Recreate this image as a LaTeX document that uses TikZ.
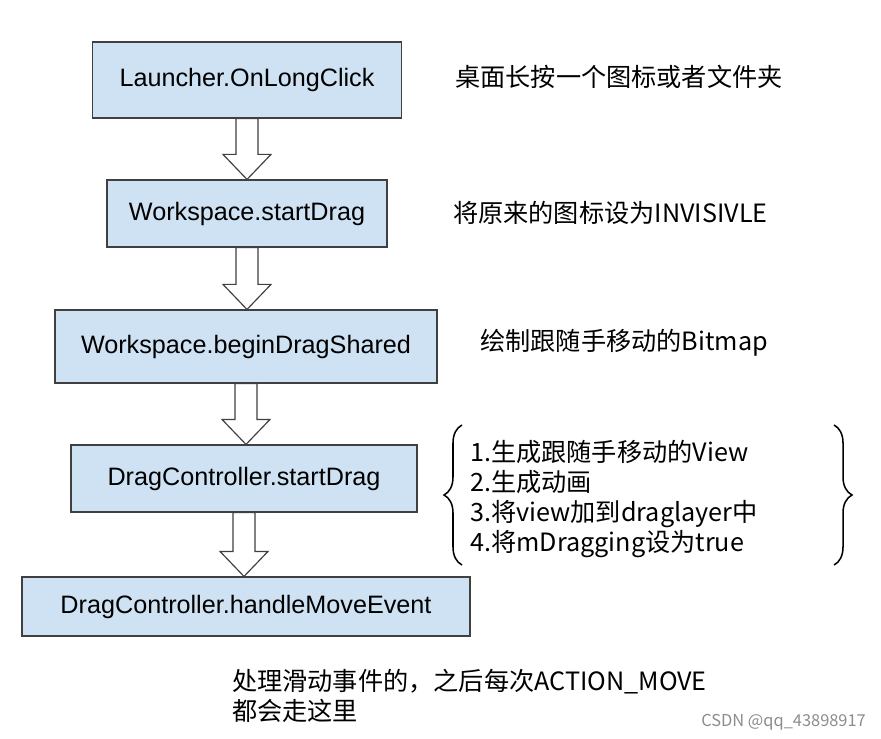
\documentclass[tikz,border=0pt]{standalone}
\usepackage{fontspec}
\setmainfont{Liberation Sans}
\newfontfamily\cjk{Noto Sans CJK SC}
\usetikzlibrary{calc,decorations.pathreplacing}
\begin{document}
\begin{tikzpicture}[x=0.03cm,y=-0.03cm,
  box/.style={draw=black!75,line width=1pt,fill={rgb,255:red,207;green,226;blue,243},inner sep=0pt,font=\fontsize{21.5}{24}\selectfont},
  lbl/.style={anchor=west,font=\cjk\fontsize{21.5}{25.5}\selectfont,inner sep=0pt,align=left},
  blk/.style={draw=black!75,line width=1pt,fill=white}]
\useasboundingbox (0,0) rectangle (881,739);
\node[box,minimum width=309*0.03cm,minimum height=76*0.03cm] (b1) at (247,80) {Launcher.OnLongClick};
\node[box,minimum width=280*0.03cm,minimum height=67*0.03cm] (b2) at (247,213.5) {Workspace.startDrag};
\node[box,minimum width=382*0.03cm,minimum height=73*0.03cm] (b3) at (246,346.5) {Workspace.beginDragShared};
\node[box,minimum width=346*0.03cm,minimum height=67*0.03cm] (b4) at (244,478.5) {DragController.startDrag};
\node[box,minimum width=448*0.03cm,minimum height=59*0.03cm] (b5) at (246,606.5) {DragController.handleMoveEvent};
\foreach \a/\b in {b1/b2,b2/b3,b3/b4,b4/b5}{
  \draw[blk] let \p1=(\a.south), \p2=(\b.north) in
   (\x1-0.33cm,\y1) -- (\x1-0.33cm,\y2+0.75cm) -- (\x1-0.72cm,\y2+0.75cm) -- (\x1,\y2)
   -- (\x1+0.72cm,\y2+0.75cm) -- (\x1+0.33cm,\y2+0.75cm) -- (\x1+0.33cm,\y1) -- cycle;}
\node[lbl] (t1) at (455,77) {桌面长按一个图标或者文件夹};
\node[lbl] (t2) at (453,213) {将原来的图标设为INVISIVLE};
\node[lbl] (t3) at (480,343) {绘制跟随手移动的Bitmap};
\node[lbl] (t4) at (470,499) {1.生成跟随手移动的View\\2.生成动画\\3.将view加到draglayer中\\4.将mDragging设为true};
\draw[line width=1.3pt,decorate,decoration={brace,amplitude=18*0.03cm}] (462,565) -- (462,425);
\draw[line width=1.3pt,decorate,decoration={brace,amplitude=18*0.03cm}] (834,425) -- (834,565);
\node[lbl] (t5) at (232,696) {处理滑动事件的，之后每次ACTION\_MOVE\\都会走这里};
\node[anchor=east,inner sep=0pt,text=black!45,font=\cjk\fontsize{14}{16}\selectfont] (wm) at (866,722) {CSDN @qq\_43898917};
\end{tikzpicture}
\end{document}
